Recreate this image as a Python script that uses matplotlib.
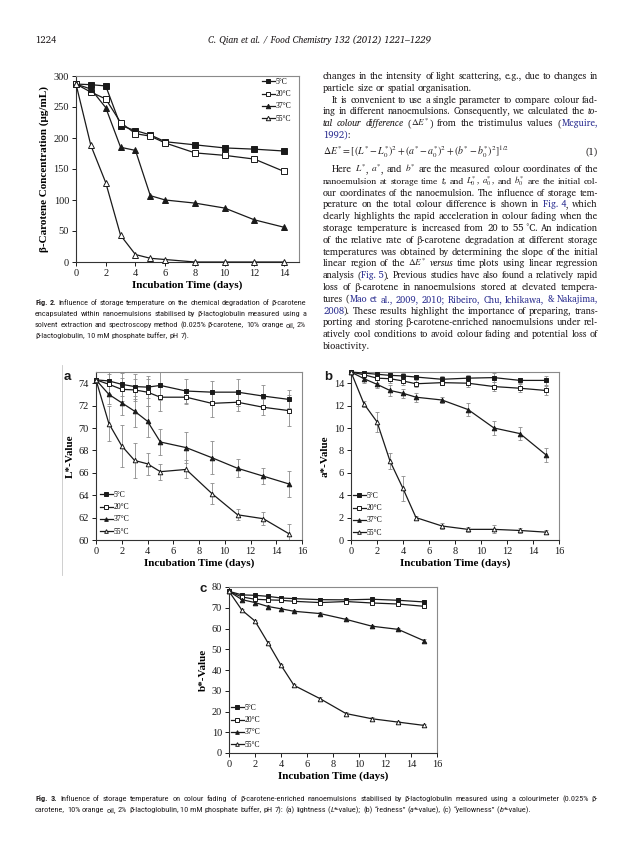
import matplotlib
matplotlib.use('Agg')
import matplotlib.pyplot as plt

W, H = 638, 851

# ---- Fig. 2 data: beta-carotene concentration (ug/mL)
t2 = [0, 1, 2, 3, 4, 5, 6, 8, 10, 12, 14]
conc_5 = [287, 286, 284, 220, 212, 205, 194, 189, 184, 182, 179]
conc_20 = [287, 274, 263, 225, 207, 203, 192, 176, 172, 166, 146]
conc_37 = [287, 279, 249, 185, 180, 107, 100, 95, 87, 68, 56]
conc_55 = [287, 188, 128, 43, 12, 6, 4, 0, 0, 0, 0]

# ---- Fig. 3 data: colour values
t3 = [0, 1, 2, 3, 4, 5, 7, 9, 11, 13, 15]
L_5 = [74.3, 74.2, 73.9, 73.7, 73.65, 73.8, 73.3, 73.2, 73.2, 72.85, 72.55]
L_20 = [74.3, 73.9, 73.45, 73.4, 73.2, 72.75, 72.75, 72.2, 72.3, 71.85, 71.55]
L_37 = [74.3, 73.0, 72.25, 71.5, 70.6, 68.75, 68.25, 67.35, 66.4, 65.7, 65.0]
L_55 = [74.3, 70.4, 68.4, 67.1, 66.8, 66.1, 66.3, 64.15, 62.25, 61.9, 60.55]
L_5_err = [0, 1.2, 1.0, 1.1, 1.0, 1.3, 1.1, 1.0, 1.2, 1.0, 0.8]
L_20_err = [0, 0.9, 1.0, 1.0, 1.2, 1.2, 0.6, 1.2, 0.8, 0.7, 1.4]
L_37_err = [0, 0.9, 1.1, 1.4, 1.4, 1.2, 1.4, 1.5, 0.8, 0.7, 1.2]
L_55_err = [0, 1.6, 1.9, 1.6, 1.0, 0.7, 0.8, 0.9, 0.5, 0.6, 0.9]

a_5 = [15.0, 14.9, 14.8, 14.7, 14.65, 14.55, 14.35, 14.45, 14.5, 14.25, 14.25]
a_20 = [15.0, 14.75, 14.45, 14.4, 14.2, 13.95, 14.05, 14.0, 13.7, 13.55, 13.35]
a_37 = [15.0, 14.4, 13.9, 13.35, 13.1, 12.75, 12.5, 11.65, 10.0, 9.5, 7.6]
a_55 = [15.0, 12.15, 10.55, 7.05, 4.6, 2.0, 1.25, 0.95, 0.95, 0.85, 0.7]
a_5_err = [0, 0.2, 0.2, 0.25, 0.3, 0.2, 0.25, 0.3, 0.4, 0.25, 0.4]
a_20_err = [0, 0.3, 0.4, 0.4, 0.35, 0.3, 0.25, 0.3, 0.4, 0.35, 0.4]
a_37_err = [0, 0.35, 0.35, 0.5, 0.4, 0.4, 0.3, 0.6, 0.6, 0.6, 0.65]
a_55_err = [0, 0.3, 0.9, 0.75, 1.1, 0.15, 0.3, 0.2, 0.35, 0.2, 0.2]

b_5 = [77.9, 76.2, 76.0, 75.5, 74.7, 74.4, 73.9, 73.8, 74.1, 73.6, 72.8]
b_20 = [77.9, 75.2, 74.1, 73.8, 73.6, 73.1, 72.5, 73.0, 72.3, 71.8, 70.7]
b_37 = [77.9, 73.9, 72.5, 70.6, 69.5, 68.3, 67.2, 64.4, 61.1, 59.6, 54.1]
b_55 = [77.9, 68.8, 63.6, 53.1, 42.3, 32.6, 26.2, 19.0, 16.5, 14.9, 13.3]
b_err = [0, 0.8, 0.6, 0.7, 0.6, 0.6, 0.7, 0.8, 0.7, 0.6, 0.8]

temps = ['5°C', '20°C', '37°C', '55°C']
styles = [('s', '#1a1a1a'), ('s', 'white'), ('^', '#1a1a1a'), ('^', 'white')]

plt.rcParams['mathtext.fontset'] = 'stix'
SERIF = 'Liberation Serif'
BODYFONT = ['Charis SIL', 'Tinos', 'Liberation Serif']
CAPFONT = ['Roboto Condensed', 'Liberation Sans Narrow', 'Liberation Sans']
INK = '#231f20'
LINKC = '#2e3192'

fig = plt.figure(figsize=(W / 100, H / 100), dpi=100)
renderer = fig.canvas.get_renderer()


def fx(x):
    return x / W


def fy(y):
    return 1 - y / H


def panel(l, r, t, b, x, series, errs, xlim, xticks, ylim, yticks, ylabel, leg_xy, ms):
    ax = fig.add_axes([fx(l), fy(b), (r - l) / W, (b - t) / H])
    for y, e, st, lab in zip(series, errs, styles, temps):
        if e is not None:
            ax.errorbar(x, y, yerr=e, fmt='none', ecolor='#8c8c8c', elinewidth=0.6,
                        capsize=1.2, capthick=0.6, zorder=1)
        ax.plot(x, y, color='#1a1a1a', lw=0.9, marker=st[0], mfc=st[1], mec='#1a1a1a',
                ms=ms, mew=0.7, zorder=3, label=lab, clip_on=False)
    ax.set_xlim(*xlim)
    ax.set_ylim(*ylim)
    ax.set_xticks(xticks)
    ax.set_yticks(yticks)
    for s in ['left', 'bottom']:
        ax.spines[s].set_color('#333333')
        ax.spines[s].set_linewidth(0.8)
    for s in ['top', 'right']:
        ax.spines[s].set_color('#8a8a8a')
        ax.spines[s].set_linewidth(0.8)
    ax.tick_params(direction='out', length=3, width=0.7, pad=2, labelsize=7.5,
                   colors='#1a1a1a')
    for lb in ax.get_xticklabels() + ax.get_yticklabels():
        lb.set_family(SERIF)
    ax.set_xlabel('Incubation Time (days)', family=SERIF, weight='bold', size=8, labelpad=2)
    ax.set_ylabel(ylabel, family=SERIF, weight='bold', size=8, labelpad=3)
    ax.legend(loc='upper left', bbox_to_anchor=(fx(leg_xy[0]), fy(leg_xy[1])),
              bbox_transform=fig.transFigure, frameon=False,
              prop={'family': SERIF, 'size': 5.5}, handlelength=1.7, handletextpad=0.1,
              labelspacing=0.55, borderpad=0, borderaxespad=0, markerscale=0.8)
    return ax


# Fig. 2
panel(76, 299, 76, 262, t2, [conc_5, conc_20, conc_37, conc_55], [None] * 4,
      (0, 15), range(0, 15, 2), (0, 300), range(0, 301, 50),
      'β-Carotene Concentration (μg/mL)', (262, 78), 4)

# Fig. 3 a, b, c
panel(96, 302, 372, 540, t3, [L_5, L_20, L_37, L_55], [L_5_err, L_20_err, L_37_err, L_55_err],
      (0, 16), range(0, 17, 2), (60, 75), range(60, 75, 2), 'L*-Value', (100, 491), 3.3)
panel(351, 559, 372, 540, t3, [a_5, a_20, a_37, a_55], [a_5_err, a_20_err, a_37_err, a_55_err],
      (0, 16), range(0, 17, 2), (0, 15), range(0, 15, 2), 'a*-Value', (353, 492), 3.3)
panel(229, 437, 587, 753, t3, [b_5, b_20, b_37, b_55], [b_err] * 4,
      (0, 16), range(0, 17, 2), (0, 80), range(0, 81, 10), 'b*-Value', (231, 704), 3.3)

for lab, x, y in [('a', 64, 380), ('b', 324, 380), ('c', 199, 592)]:
    fig.text(fx(x), fy(y), lab, family='Liberation Sans', weight='bold', size=9.5,
             va='baseline', color='#1a1a1a')
fig.add_artist(plt.Line2D([fx(62), fx(62)], [fy(365), fy(575)], color='#c8c8c8', lw=0.6))


# ---- justified text helpers
def seg_w(text, kw):
    t = fig.text(0.5, 0.5, text, **kw)
    w = t.get_window_extent(renderer).width
    t.remove()
    return w


def split_words(segs, base):
    words, new = [], True
    for text, kw in segs:
        parts = text.split(' ')
        for i, p in enumerate(parts):
            if i > 0:
                new = True
            if p == '':
                continue
            if new or not words:
                words.append([])
                new = False
            words[-1].append((p, {**base, **kw}))
    return words


def space_w(base):
    return seg_w('n n', base) - seg_w('nn', base)


def natural(segs, base):
    words = split_words(segs, base)
    return sum(seg_w(p, kw) for wd in words for p, kw in wd) + space_w(base) * (len(words) - 1)


def fit(block, base, width, fill=0.97):
    # font size from the median justified line, so one odd line cannot shrink the block
    ratios = sorted(natural(segs, base) / (width - ind) for segs, ind, j in block if j)
    mid = ratios[len(ratios) // 2]
    return {**base, 'size': base['size'] * fill / mid}


def put_line(segs, x0, x1, y, base, just=True):
    nat = natural(segs, base)
    if nat > (x1 - x0):
        base = {**base, 'size': base['size'] * (x1 - x0) / nat * 0.995}
    words = split_words(segs, base)
    widths = [[seg_w(p, kw) for p, kw in wd] for wd in words]
    total = sum(sum(ws) for ws in widths)
    gap = space_w(base)
    if just and len(words) > 1:
        gap = (x1 - x0 - total) / (len(words) - 1)
    x = x0
    for wd, ws in zip(words, widths):
        for (p, kw), w in zip(wd, ws):
            fig.text(fx(x), fy(y), p, va='baseline', ha='left', **kw)
            x += w
        x += gap


IT = dict(style='italic')
LK = dict(color=LINKC)
BD = dict(weight='bold')
DE = r'$\Delta{E}^{*}$'

# right column body text
X0, X1, IND = 323, 598, 9
col = [
    ([('changes in the intensity of light scattering, e.g., due to changes in', {})], 0, True),
    ([('particle size or spatial organisation.', {})], 0, False),
    ([('It is convenient to use a single parameter to compare colour fad-', {})], IND, True),
    ([('ing in different nanoemulsions. Consequently, we calculated the ', {}), ('to-', IT)], 0, True),
    ([('tal colour difference', IT), (' (', {}), (DE, {}),
      (') from the tristimulus values (', {}), ('Mcguire,', LK)], 0, True),
    ([('1992)', LK), (':', {})], 0, False),
]
col2 = [
    ([('Here ', {}), ('$L^{*}$', {}), (', ', {}), ('$a^{*}$', {}), (', and ', {}), ('$b^{*}$', {}),
      (' are the measured colour coordinates of the', {})], IND, True),
    ([('nanoemulsion at storage time ', {}), ('t', IT), (', and ', {}), ('$L_{0}^{*}$', {}),
      (', ', {}), ('$a_{0}^{*}$', {}), (', and ', {}), ('$b_{0}^{*}$', {}),
      (' are the initial col-', {})], 0, True),
    ([('our coordinates of the nanoemulsion. The influence of storage tem-', {})], 0, True),
    ([('perature on the total colour difference is shown in ', {}), ('Fig.\u00a04', LK),
      (', which', {})], 0, True),
    ([('clearly highlights the rapid acceleration in colour fading when the', {})], 0, True),
    ([('storage temperature is increased from 20 to 55\u00a0°C. An indication', {})], 0, True),
    ([('of the relative rate of β-carotene degradation at different storage', {})], 0, True),
    ([('temperatures was obtained by determining the slope of the initial', {})], 0, True),
    ([('linear region of the ', {}), (DE, {}), (' ', {}), ('versus', IT),
      (' time plots using linear regression', {})], 0, True),
    ([('analysis (', {}), ('Fig.\u00a05', LK),
      ('). Previous studies have also found a relatively rapid', {})], 0, True),
    ([('loss of β-carotene in nanoemulsions stored at elevated tempera-', {})], 0, True),
    ([('tures (', {}), ('Mao et al., 2009, 2010; Ribeiro, Chu, Ichikawa, & Nakajima,', LK)], 0, True),
    ([('2008', LK), ('). These results highlight the importance of preparing, trans-', {})], 0, True),
    ([('porting and storing β-carotene-enriched nanoemulsions under rel-', {})], 0, True),
    ([('atively cool conditions to avoid colour fading and potential loss of', {})], 0, True),
    ([('bioactivity.', {})], 0, False),
]
BODY = fit(col + col2, dict(family=BODYFONT, size=7, color=INK), X1 - X0, 1.0)

# header
fig.text(fx(35), fy(43), '1224', va='baseline', **BODY)
fig.text(fx(319), fy(43), 'C. Qian et al. / Food Chemistry 132 (2012) 1221–1229',
         va='baseline', ha='center', style='italic', family=BODYFONT, size=BODY['size'], color=INK)

y = 79
for segs, ind, j in col:
    put_line(segs, X0 + ind, X1, y, BODY, j)
    y += 11.8

fig.text(fx(X0), fy(155),
         r'$\Delta{E}^{*}=[(L^{*}-L_{0}^{*})^{2}+(a^{*}-a_{0}^{*})^{2}+(b^{*}-b_{0}^{*})^{2}]^{1/2}$',
         va='baseline', family=BODYFONT, size=BODY['size'] * 1.05, color=INK)
fig.text(fx(X1), fy(155), '(1)', va='baseline', ha='right', **BODY)

y = 172
for segs, ind, j in col2:
    put_line(segs, X0 + ind, X1, y, BODY, j)
    y += 11.8

# Fig. 2 caption
cap2 = [
    ([('Fig. 2.', BD), (' Influence of storage temperature on the chemical degradation of β-carotene', {})], 0, True),
    ([('encapsulated within nanoemulsions stabilised by β-lactoglobulin measured using a', {})], 0, True),
    ([('solvent extraction and spectroscopy method (0.025% β-carotene, 10% orange oil, 2%', {})], 0, True),
    ([('β-lactoglobulin, 10\u00a0mM phosphate buffer, pH 7).', {})], 0, False),
]
CAP2 = fit(cap2, dict(family=CAPFONT, size=6, color=INK), 306 - 35, 1.0)
y = 305
for segs, ind, j in cap2:
    put_line(segs, 35, 306, y, CAP2, j)
    y += 11

# Fig. 3 caption
cap3 = [
    ([('Fig. 3.', BD), (' Influence of storage temperature on colour fading of β-carotene-enriched '
                        'nanoemulsions stabilised by β-lactoglobulin measured using a colourimeter (0.025% β-', {})], 0, True),
    ([('carotene, 10% orange oil, 2% β-lactoglobulin, 10\u00a0mM phosphate buffer, pH 7): (a) lightness (', {}),
      ('L', IT), ('*-value); (b) “redness” (', {}), ('a', IT), ('*-value), (c) “yellowness” (', {}),
      ('b', IT), ('*-value).', {})], 0, False),
]
y = 801
for segs, ind, j in cap3:
    put_line(segs, 35, 598, y, CAP2, j)
    y += 11

fig.savefig('out.png', dpi=100)
